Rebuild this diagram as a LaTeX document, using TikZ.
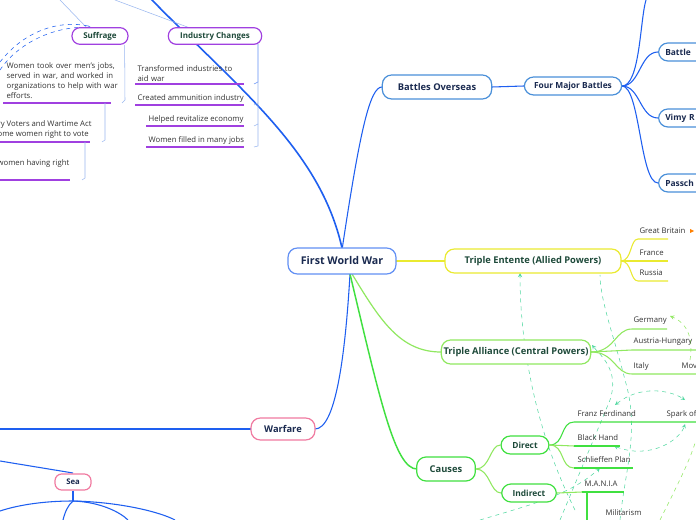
\documentclass[tikz,border=0pt]{standalone}
\usepackage{fontspec}
\setmainfont{Open Sans}
\begin{document}
\begin{tikzpicture}[x=0.75pt,y=-0.75pt,
  every node/.style={font=\fontsize{5.8}{7.5}\selectfont, text=black!80},
  box/.style={draw, rounded corners=7pt, line width=0.9pt, fill=white, font=\fontsize{7}{8}\selectfont\bfseries, text=navyt, inner sep=0pt},
  lbl/.style={anchor=west, inner sep=1pt},
  ln/.style={line width=0.8pt}]
\definecolor{navyt}{HTML}{1A2A50}
\definecolor{gtext}{HTML}{1E4A3A}
\definecolor{bl}{HTML}{1E5FF0}
\definecolor{lb}{HTML}{4A90D9}
\definecolor{yl}{HTML}{EAEA30}
\definecolor{lg}{HTML}{90E860}
\definecolor{gr}{HTML}{40E040}
\definecolor{pk}{HTML}{F07AA0}
\definecolor{pu}{HTML}{A040E0}
\definecolor{lbl2}{HTML}{9AB8F0}
\definecolor{dg}{HTML}{50D8A0}
\useasboundingbox (0,0) rectangle (696,520);
\fill[white] (0,0) rectangle (696,520);

% --- connectors behind
\draw[bl, line width=1.2pt] (150,-2) .. controls (240,90) and (320,150) .. (342,248);
\draw[bl, line width=0.8pt] (342,250) .. controls (360,130) and (370,87) .. (382,87);
\draw[bl, line width=0.8pt] (350,274) .. controls (345,360) and (335,429) .. (315,429);
\draw[bl, ln] (251,429) -- (0,429);
\draw[yl, ln] (396,261) -- (445,261);
\draw[lg, line width=0.9pt] (352,274) .. controls (380,320) and (400,352) .. (441,352);
\draw[gr, line width=1.1pt] (350,274) .. controls (380,400) and (395,469) .. (417,469);
\draw[lbl2] (60,0) -- (87,28);
\draw[lbl2] (115,0) -- (190,28);

% dashed relations
\draw[dg, dashed, ->, >=stealth] (575,510) .. controls (530,420) and (520,330) .. (520,273);
\draw[dg, dashed, ->, >=stealth] (560,520) -- (610,400) .. controls (620,370) and (600,355) .. (592,345);
\draw[dg, dashed, ->, >=stealth] (480,520) .. controls (530,505) and (570,495) .. (600,468);
\draw[lg, dashed, ->, >=stealth] (690,360) .. controls (695,330) and (680,320) .. (670,316);
\draw[dg, dashed, <->, >=stealth] (615,405) .. controls (640,385) and (670,390) .. (685,400);
\draw[dg, dashed, <->, >=stealth] (614,446) .. controls (650,460) and (680,440) .. (685,424);
\draw[dg, dashed] (620,520) .. controls (625,470) and (640,430) .. (625,380) .. controls (615,340) and (600,300) .. (600,275);
\draw[lg, dashed] (660,520) .. controls (680,480) and (690,460) .. (696,440);
\draw[bl, dashed, ->, >=stealth] (0,70) .. controls (20,40) and (60,25) .. (92,28);
\draw[bl, dashed] (0,62) .. controls (25,30) and (60,20) .. (88,26);

% --- Battles
\draw[bl, ln] (492,87) -- (524,86);
\draw[bl, ln] (622,86) .. controls (640,86) and (640,20) .. (646,0);
\draw[bl, ln] (622,86) .. controls (640,86) and (640,52) .. (658,52);
\draw[bl, ln] (622,86) .. controls (640,86) and (640,118) .. (658,118);
\draw[bl, ln] (622,86) .. controls (640,86) and (640,183) .. (658,183);

\node[box, draw=bl!70, minimum width=81pt, minimum height=19.5pt, font=\fontsize{8}{9}\selectfont\bfseries] (fww) at (342,261) {First World War};
\node[box, draw=lb, minimum width=82pt, minimum height=18pt] (bo) at (437,87) {Battles Overseas};
\node[box, draw=lb, minimum width=73pt, minimum height=13.5pt, font=\fontsize{6.3}{7}\selectfont\bfseries] (fmb) at (573,86) {Four Major Battles};
\node[box, draw=lb, anchor=west, minimum width=40pt, minimum height=13.5pt, font=\fontsize{6.3}{7}\selectfont\bfseries, text width=40pt, align=left, inner xsep=5pt] (b1) at (658,52) {Battle};
\node[box, draw=lb, anchor=west, minimum width=40pt, minimum height=13.5pt, font=\fontsize{6.3}{7}\selectfont\bfseries, text width=40pt, align=left, inner xsep=5pt] (b2) at (658,118) {Vimy R};
\node[box, draw=lb, anchor=west, minimum width=40pt, minimum height=13.5pt, font=\fontsize{6.3}{7}\selectfont\bfseries, text width=40pt, align=left, inner xsep=5pt] (b3) at (658,183) {Passch};

% --- Triple Entente
\node[box, draw=yl, text=gtext, minimum width=132pt, minimum height=18pt] (te) at (533,261) {Triple Entente (Allied Powers)};
\foreach \n/\t/\y in {gb/Great Britain/231, fr/France/253, ru/Russia/273}{
  \node[lbl] (\n) at (638,\y) {\t};
  \draw[yl, ln] (621,261) .. controls (632,261) and (630,\y+8) .. (638,\y+8) -- (668,\y+8);
}
\fill[orange] (694,231) -- (690,229) -- (690,233) -- cycle;

% --- Triple Alliance
\node[box, draw=lg, text=gtext, minimum width=112pt, minimum height=18pt] (ta) at (516,352) {Triple Alliance (Central Powers)};
\draw[lg, ln] (591,352) .. controls (615,352) and (615,329) .. (632,329) -- (667,329);
\draw[lg, ln] (591,352) -- (632,350) -- (696,350);
\draw[lg, ln] (591,352) .. controls (615,352) and (615,374) .. (632,374) -- (696,374);
\node[lbl] (ge) at (632,321) {Germany};
\node[lbl] (ah) at (632,342) {Austria-Hungary};
\node[lbl] (it) at (632,366) {Italy};
\node[lbl] (mo) at (680,366) {Mov};

% --- Causes
\node[box, draw=gr, text=gtext, minimum width=44pt, minimum height=18pt] (ca) at (446,469) {Causes};
\node[box, draw=gr, text=gtext, minimum width=36pt, minimum height=13.5pt, font=\fontsize{6.3}{7}\selectfont\bfseries] (di) at (525,445) {Direct};
\node[box, draw=gr, text=gtext, minimum width=41pt, minimum height=13.5pt, font=\fontsize{6.3}{7}\selectfont\bfseries] (in) at (529,493) {Indirect};
\draw[lg, ln] (ca.east) .. controls (490,469) and (490,445) .. (di.west);
\draw[lg, ln] (ca.east) .. controls (490,469) and (490,493) .. (in.west);
\draw[gr, ln] (di.east) .. controls (565,445) and (560,422) .. (574,422) -- (660,422) -- (696,422);
\draw[lg, ln] (di.east) -- (574,446);
\draw[gr, ln] (574,446) -- (620,446);
\draw[lg, ln] (di.east) .. controls (565,445) and (560,468) .. (574,468);
\draw[gr, ln] (574,468) -- (633,468);
\draw[lg, ln] (in.east) -- (582,492);
\draw[gr, ln] (582,492) -- (624,492);
\draw[gr, line width=1.2pt] (587,492) -- (587,520);
\node[lbl] (ff) at (576,414) {Franz Ferdinand};
\node[lbl] (sp) at (665,414) {Spark of};
\node[lbl] (bh) at (576,438) {Black Hand};
\node[lbl] (sc) at (576,460) {Schlieffen Plan};
\node[lbl] (ma) at (583,484) {M.A.N.I.A};
\node[lbl] (mi) at (604,513) {Militarism};

% --- Warfare / Sea
\node[box, draw=pk, minimum width=48pt, minimum height=16.5pt] (wa) at (283,429) {Warfare};
\draw[bl, ln] (0,461) -- (73,473);
\node[box, draw=pk, rounded corners=5pt, minimum width=27pt, minimum height=12pt, font=\fontsize{5.8}{7}\selectfont\bfseries] (se) at (73,482) {Sea};
\draw[bl, line width=1pt] (se.south) -- (73,501);
\draw[bl, ln] (73,501) .. controls (40,501) and (15,506) .. (0,511);
\draw[bl, ln] (73,501) .. controls (68,505) and (65,512) .. (63,520);
\draw[bl, ln] (73,501) .. controls (100,502) and (120,512) .. (128,520);
\draw[bl, ln] (73,501) .. controls (120,502) and (160,512) .. (175,520);

% --- Suffrage / Industry
\node[box, draw=pu, text=gtext, rounded corners=6pt, minimum width=42pt, minimum height=12.5pt, font=\fontsize{6}{7}\selectfont\bfseries] (su) at (100,36) {Suffrage};
\node[box, draw=pu, text=gtext, rounded corners=6pt, minimum width=70pt, minimum height=12.5pt, font=\fontsize{6}{7}\selectfont\bfseries] (ic) at (215,36) {Industry Changes};
\draw[lbl2] (su.south east)++(-4,0) -- (125,100) -- (122,103);
\draw[pu, line width=1pt] (3,103) -- (111,103);
\draw[lbl2] (105,103) -- (105,140) -- (102,142);
\draw[pu, line width=1pt] (-2,142) -- (90,142);
\draw[lbl2] (85,142) -- (85,178) -- (82,180);
\draw[pu, line width=1pt] (-2,180) -- (70,180);
\node[lbl, align=left, text width=86pt, anchor=north west] (t1) at (5,61) {Women took over men's jobs, served in war, and worked in organizations to help with war efforts.};
\node[lbl, anchor=west] (t2) at (-4,124) {ry Voters and Wartime Act};
\node[lbl, anchor=west] (t3) at (-4,134) {ome women right to vote};
\node[lbl, anchor=west] (t4) at (-4,163) {women having right};

\draw[bl!70] (258,44) -- (258,82) -- (254,84);
\draw[lbl2] (258,82) -- (258,103) -- (254,105);
\draw[lbl2] (258,103) -- (258,124) -- (254,126);
\draw[lbl2] (258,124) -- (258,146) -- (254,147);
\draw[pu, line width=1pt] (135,84) -- (244,84);
\draw[pu, line width=1pt] (135,105) -- (244,105);
\draw[pu, line width=1pt] (146,126) -- (244,126);
\draw[pu, line width=1pt] (146,147) -- (244,147);
\node[lbl, align=left, text width=81pt, anchor=south west] (i1) at (136,83) {Transformed industries to aid war};
\node[lbl, anchor=south west] (i2) at (136,104) {Created ammunition industry};
\node[lbl, anchor=south west] (i3) at (147,125) {Helped revitalize economy};
\node[lbl, anchor=south west] (i4) at (147,146) {Women filled in many jobs};
\end{tikzpicture}
\end{document}
